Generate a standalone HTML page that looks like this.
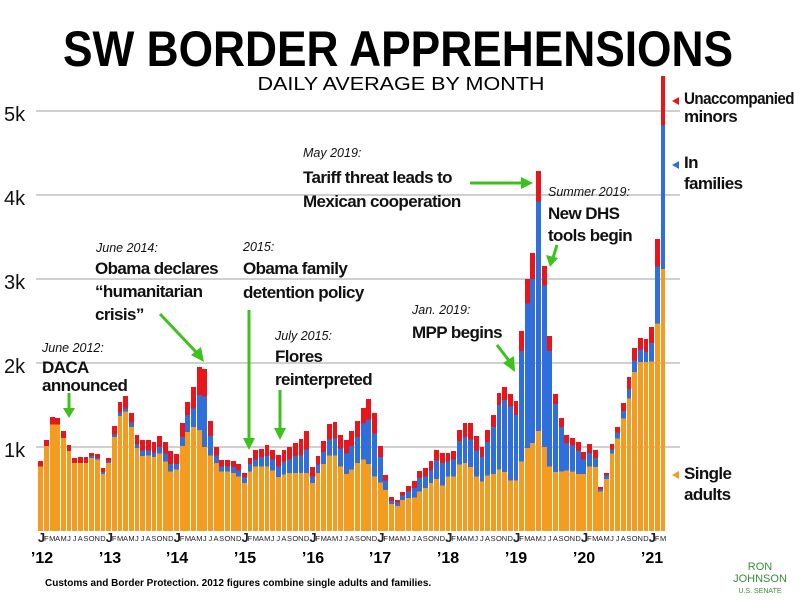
<!DOCTYPE html>
<html><head><meta charset="utf-8"><style>
html,body{margin:0;padding:0;background:#fff}
body{position:relative;width:800px;height:600px;overflow:hidden}
svg{position:absolute;left:0;top:0}
text{font-family:"Liberation Sans",sans-serif}
.b{font-weight:bold;font-size:17px;letter-spacing:-0.6px}
.i{font-style:italic;font-size:12.5px}
.g{position:absolute;left:36px;width:644px;height:1.5px;background:#d0d0d0}
#bars{position:absolute;left:38.4px;top:0;height:531px;display:flex;align-items:flex-end}
#bars div{width:4.8px;margin-right:.87px;flex:none;height:calc(var(--t)*84px);background:linear-gradient(0deg,#f39c1f calc(var(--o)*84px),#2f6fdd 0 calc(var(--b)*84px),#e8161b 0)}
#mo{position:absolute;left:37.87px;top:532px;display:flex;font-family:"Liberation Sans",sans-serif;font-size:7.5px;color:#222;line-height:10px}
#mo span{width:5.67px;flex:none;text-align:center;display:block;padding-top:2px}
#mo span.j{font-size:13px;font-weight:bold;padding-top:0;line-height:12px}
</style></head><body>
<div class="g" style="top:446px"></div><div class="g" style="top:362px"></div><div class="g" style="top:278px"></div><div class="g" style="top:194px"></div><div class="g" style="top:110px"></div>
<div id="bars">
<div style="--t:.83;--b:.77;--o:.77"></div><div style="--t:1.08;--b:1.01;--o:1.01"></div><div style="--t:1.36;--b:1.27;--o:1.27"></div><div style="--t:1.35;--b:1.27;--o:1.27"></div><div style="--t:1.19;--b:1.11;--o:1.11"></div><div style="--t:1.02;--b:.95;--o:.95"></div><div style="--t:.87;--b:.81;--o:.81"></div><div style="--t:.88;--b:.81;--o:.81"></div><div style="--t:.88;--b:.81;--o:.81"></div><div style="--t:.93;--b:.89;--o:.87"></div><div style="--t:.92;--b:.87;--o:.85"></div><div style="--t:.75;--b:.70;--o:.68"></div>
<div style="--t:.87;--b:.83;--o:.81"></div><div style="--t:1.25;--b:1.15;--o:1.12"></div><div style="--t:1.53;--b:1.41;--o:1.37"></div><div style="--t:1.61;--b:1.46;--o:1.42"></div><div style="--t:1.41;--b:1.29;--o:1.24"></div><div style="--t:1.14;--b:1.03;--o:.99"></div><div style="--t:1.08;--b:.96;--o:.89"></div><div style="--t:1.08;--b:.96;--o:.90"></div><div style="--t:1.06;--b:.93;--o:.88"></div><div style="--t:1.13;--b:1.0;--o:.92"></div><div style="--t:1.06;--b:.92;--o:.83"></div><div style="--t:.95;--b:.80;--o:.71"></div>
<div style="--t:.92;--b:.80;--o:.73"></div><div style="--t:1.29;--b:1.12;--o:1.01"></div><div style="--t:1.53;--b:1.38;--o:1.18"></div><div style="--t:1.72;--b:1.46;--o:1.24"></div><div style="--t:1.95;--b:1.62;--o:1.20"></div><div style="--t:1.93;--b:1.60;--o:1.00"></div><div style="--t:1.31;--b:1.13;--o:.90"></div><div style="--t:1.0;--b:.90;--o:.81"></div><div style="--t:.85;--b:.77;--o:.71"></div><div style="--t:.85;--b:.77;--o:.71"></div><div style="--t:.83;--b:.76;--o:.69"></div><div style="--t:.80;--b:.72;--o:.65"></div>
<div style="--t:.69;--b:.64;--o:.57"></div><div style="--t:.87;--b:.80;--o:.71"></div><div style="--t:.96;--b:.85;--o:.77"></div><div style="--t:.98;--b:.88;--o:.77"></div><div style="--t:1.02;--b:.89;--o:.77"></div><div style="--t:.97;--b:.85;--o:.72"></div><div style="--t:.90;--b:.77;--o:.64"></div><div style="--t:.96;--b:.83;--o:.67"></div><div style="--t:1.0;--b:.85;--o:.69"></div><div style="--t:1.05;--b:.89;--o:.69"></div><div style="--t:1.09;--b:.9;--o:.69"></div><div style="--t:1.19;--b:.97;--o:.69"></div>
<div style="--t:.76;--b:.65;--o:.57"></div><div style="--t:.89;--b:.79;--o:.69"></div><div style="--t:1.07;--b:.94;--o:.80"></div><div style="--t:1.27;--b:1.09;--o:.90"></div><div style="--t:1.30;--b:1.10;--o:.90"></div><div style="--t:1.14;--b:.98;--o:.77"></div><div style="--t:1.08;--b:.92;--o:.68"></div><div style="--t:1.19;--b:1.01;--o:.73"></div><div style="--t:1.31;--b:1.12;--o:.81"></div><div style="--t:1.46;--b:1.28;--o:.85"></div><div style="--t:1.57;--b:1.33;--o:.80"></div><div style="--t:1.40;--b:1.16;--o:.65"></div>
<div style="--t:1.01;--b:.88;--o:.58"></div><div style="--t:.67;--b:.60;--o:.49"></div><div style="--t:.40;--b:.36;--o:.32"></div><div style="--t:.37;--b:.34;--o:.30"></div><div style="--t:.47;--b:.42;--o:.37"></div><div style="--t:.54;--b:.47;--o:.39"></div><div style="--t:.59;--b:.51;--o:.40"></div><div style="--t:.72;--b:.63;--o:.47"></div><div style="--t:.75;--b:.65;--o:.51"></div><div style="--t:.83;--b:.72;--o:.57"></div><div style="--t:.97;--b:.84;--o:.62"></div><div style="--t:.93;--b:.81;--o:.54"></div>
<div style="--t:.93;--b:.83;--o:.65"></div><div style="--t:.95;--b:.85;--o:.65"></div><div style="--t:1.20;--b:1.07;--o:.79"></div><div style="--t:1.28;--b:1.12;--o:.81"></div><div style="--t:1.29;--b:1.09;--o:.76"></div><div style="--t:1.13;--b:.96;--o:.65"></div><div style="--t:1.0;--b:.88;--o:.59"></div><div style="--t:1.20;--b:1.06;--o:.66"></div><div style="--t:1.38;--b:1.24;--o:.68"></div><div style="--t:1.64;--b:1.50;--o:.73"></div><div style="--t:1.72;--b:1.56;--o:.70"></div><div style="--t:1.63;--b:1.48;--o:.60"></div>
<div style="--t:1.55;--b:1.38;--o:.60"></div><div style="--t:2.38;--b:2.14;--o:.83"></div><div style="--t:3.00;--b:2.71;--o:.99"></div><div style="--t:3.31;--b:3.00;--o:1.05"></div><div style="--t:4.29;--b:3.92;--o:1.19"></div><div style="--t:3.15;--b:2.92;--o:1.0"></div><div style="--t:2.32;--b:2.14;--o:.77"></div><div style="--t:1.63;--b:1.51;--o:.70"></div><div style="--t:1.35;--b:1.24;--o:.71"></div><div style="--t:1.14;--b:1.05;--o:.72"></div><div style="--t:1.11;--b:1.02;--o:.71"></div><div style="--t:1.06;--b:.95;--o:.68"></div>
<div style="--t:.94;--b:.85;--o:.68"></div><div style="--t:1.03;--b:.93;--o:.77"></div><div style="--t:.97;--b:.87;--o:.76"></div><div style="--t:.52;--b:.50;--o:.47"></div><div style="--t:.69;--b:.66;--o:.62"></div><div style="--t:1.03;--b:.97;--o:.92"></div><div style="--t:1.24;--b:1.17;--o:1.10"></div><div style="--t:1.52;--b:1.43;--o:1.34"></div><div style="--t:1.83;--b:1.69;--o:1.58"></div><div style="--t:2.18;--b:2.03;--o:1.89"></div><div style="--t:2.30;--b:2.16;--o:2.01"></div><div style="--t:2.29;--b:2.13;--o:2.01"></div>
<div style="--t:2.43;--b:2.24;--o:2.02"></div><div style="--t:3.48;--b:3.15;--o:2.47"></div><div style="--t:5.42;--b:4.83;--o:3.12"></div>
</div>
<div id="mo">
<span class="j">J</span><span>F</span><span>M</span><span>A</span><span>M</span><span>J</span><span>J</span><span>A</span><span>S</span><span>O</span><span>N</span><span>D</span>
<span class="j">J</span><span>F</span><span>M</span><span>A</span><span>M</span><span>J</span><span>J</span><span>A</span><span>S</span><span>O</span><span>N</span><span>D</span>
<span class="j">J</span><span>F</span><span>M</span><span>A</span><span>M</span><span>J</span><span>J</span><span>A</span><span>S</span><span>O</span><span>N</span><span>D</span>
<span class="j">J</span><span>F</span><span>M</span><span>A</span><span>M</span><span>J</span><span>J</span><span>A</span><span>S</span><span>O</span><span>N</span><span>D</span>
<span class="j">J</span><span>F</span><span>M</span><span>A</span><span>M</span><span>J</span><span>J</span><span>A</span><span>S</span><span>O</span><span>N</span><span>D</span>
<span class="j">J</span><span>F</span><span>M</span><span>A</span><span>M</span><span>J</span><span>J</span><span>A</span><span>S</span><span>O</span><span>N</span><span>D</span>
<span class="j">J</span><span>F</span><span>M</span><span>A</span><span>M</span><span>J</span><span>J</span><span>A</span><span>S</span><span>O</span><span>N</span><span>D</span>
<span class="j">J</span><span>F</span><span>M</span><span>A</span><span>M</span><span>J</span><span>J</span><span>A</span><span>S</span><span>O</span><span>N</span><span>D</span>
<span class="j">J</span><span>F</span><span>M</span><span>A</span><span>M</span><span>J</span><span>J</span><span>A</span><span>S</span><span>O</span><span>N</span><span>D</span>
<span class="j">J</span><span>F</span><span>M</span>
</div>
<svg width="800" height="600" viewBox="0 0 800 600" xmlns="http://www.w3.org/2000/svg">
<text x="398" y="66" text-anchor="middle" font-size="50" font-weight="bold" textLength="670" lengthAdjust="spacingAndGlyphs">SW BORDER APPREHENSIONS</text>
<text x="401" y="90" text-anchor="middle" font-size="18" textLength="287" lengthAdjust="spacingAndGlyphs">DAILY AVERAGE BY MONTH</text>
<g font-size="20" fill="#111">
<text x="4" y="121">5k</text><text x="4" y="205">4k</text><text x="4" y="289">3k</text><text x="4" y="373">2k</text><text x="4" y="457">1k</text>
</g>
<g font-size="16" font-weight="bold" text-anchor="middle">
<text x="42" y="563">’12</text><text x="110" y="563">’13</text><text x="177" y="563">’14</text><text x="245" y="563">’15</text><text x="313" y="563">’16</text><text x="380" y="563">’17</text><text x="448" y="563">’18</text><text x="516" y="563">’19</text><text x="584" y="563">’20</text><text x="652" y="563">’21</text>
</g>
<text x="45" y="586" font-size="10" font-weight="bold">Customs and Border Protection. 2012 figures combine single adults and families.</text>
<g fill="#3a8c3a" text-anchor="middle" font-family="Liberation Serif,serif">
<text x="760" y="570" font-size="11">RON</text><text x="760" y="582" font-size="11">JOHNSON</text><text x="760" y="593" font-size="7">U.S. SENATE</text>
</g>
<g fill="#111">
<text class="i" x="42" y="352">June 2012:</text><text class="b" x="42" y="373">DACA</text><text class="b" x="42" y="391">announced</text>
<text class="i" x="96" y="252">June 2014:</text><text class="b" x="95" y="274">Obama declares</text><text class="b" x="95" y="297">“humanitarian</text><text class="b" x="95" y="320">crisis”</text>
<text class="i" x="243" y="251">2015:</text><text class="b" x="243" y="274">Obama family</text><text class="b" x="243" y="298">detention policy</text>
<text class="i" x="275" y="340">July 2015:</text><text class="b" x="275" y="362">Flores</text><text class="b" x="275" y="385">reinterpreted</text>
<text class="i" x="303" y="157">May 2019:</text><text class="b" x="303" y="183">Tariff threat leads to</text><text class="b" x="303" y="207">Mexican cooperation</text>
<text class="i" x="548" y="196">Summer 2019:</text><text class="b" x="548" y="219">New DHS</text><text class="b" x="548" y="241">tools begin</text>
<text class="i" x="412" y="314">Jan. 2019:</text><text class="b" x="412" y="338">MPP begins</text>
<text class="b" x="684" y="104" font-size="15" textLength="110" lengthAdjust="spacingAndGlyphs">Unaccompanied</text><text class="b" x="684" y="122" font-size="15">minors</text>
<text class="b" x="684" y="168" font-size="15">In</text><text class="b" x="684" y="189" font-size="15">families</text>
<text class="b" x="684" y="479" font-size="15">Single</text><text class="b" x="684" y="500" font-size="15">adults</text>
</g>
<polygon points="672,101 679,97 679,105" fill="#e8161b"/>
<polygon points="672,165 679,161 679,169" fill="#2f6fdd"/>
<polygon points="672,475 679,471 679,479" fill="#f39c1f"/>
<g stroke="#3cc21c" stroke-width="3" fill="#3cc21c">
<line x1="69" y1="393" x2="69" y2="410"/><polygon points="63,408 75,408 69,418" stroke="none"/>
<line x1="160" y1="314" x2="197" y2="353"/><polygon points="191,355 201,347 204,362" stroke="none"/>
<line x1="249" y1="310" x2="249" y2="440"/><polygon points="243,438 255,438 249,450" stroke="none"/>
<line x1="280" y1="390" x2="280" y2="430"/><polygon points="274,428 286,428 280,440" stroke="none"/>
<line x1="470" y1="183" x2="523" y2="183"/><polygon points="521,177 521,189 533,183" stroke="none"/>
<line x1="557" y1="245" x2="553" y2="258"/><polygon points="546,255 558,258 550,267" stroke="none"/>
<line x1="497" y1="345" x2="510" y2="362"/><polygon points="503,363 514,356 515,372" stroke="none"/>
</g>
</svg>
</body></html>
